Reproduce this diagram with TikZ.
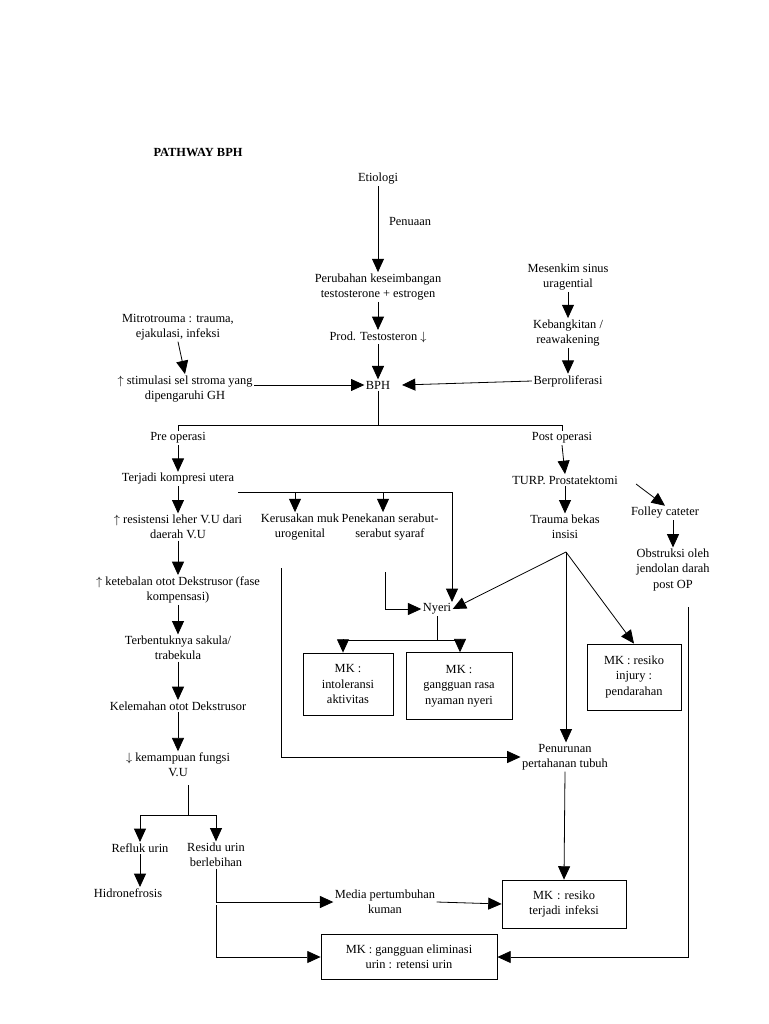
\documentclass[tikz,border=0pt]{standalone}
\usepackage{fontspec}
\setmainfont{Liberation Serif}
\usetikzlibrary{arrows.meta,calc}
\begin{document}
\begin{tikzpicture}[x=0.75pt,y=-0.75pt,
  t/.style={align=center,inner sep=1pt,font=\fontsize{9.3}{11.5}\selectfont},
  box/.style={t,draw,line width=0.6pt,inner sep=0pt},
  ar/.style={-{Triangle[length=10pt,width=9pt]},line width=0.6pt},
  ln/.style={line width=0.6pt}]
\useasboundingbox (0,0) rectangle (768,1024);
\node[t,font=\bfseries\fontsize{9.3}{11}\selectfont] (title) at (198,152) {PATHWAY BPH};
\node[t] (eti) at (378,179) {Etiologi};
\node[t] (pen) at (410,221) {Penuaan};
\node[t] (peru) at (378,287) {Perubahan keseimbangan\\testosterone + estrogen};
\node[t] (prod) at (378,337) {Prod. Testosteron $\downarrow$};
\node[t] (bph) at (378,385) {BPH};
\node[t] (mes) at (568,277) {Mesenkim sinus\\uragential};
\node[t] (keb) at (568,333) {Kebangkitan /\\reawakening};
\node[t] (ber) at (568,381) {Berproliferasi};
\node[t] (mit) at (178,327) {Mitrotrouma : trauma,\\ejakulasi, infeksi};
\node[t] (sti) at (185,389) {$\uparrow$ stimulasi sel stroma yang\\dipengaruhi GH};
\node[t] (pre) at (178,438) {Pre operasi};
\node[t] (post) at (562,438) {Post operasi};
\node[t] (ter) at (178,479) {Terjadi kompresi utera};
\node[t] (res) at (178,527) {$\uparrow$ resistensi leher V.U dari\\daerah V.U};
\node[t,fill=white] (ker) at (300,527) {Kerusakan muk\\urogenital};
\node[t,fill=white] (pnk) at (390,527) {Penekanan serabut-\\serabut syaraf};
\node[t] (teb) at (178,590) {$\uparrow$ ketebalan otot Dekstrusor (fase\\kompensasi)};
\node[t] (tbk) at (178,648) {Terbentuknya sakula/\\trabekula};
\node[t] (kel) at (178,706) {Kelemahan otot Dekstrusor};
\node[t] (kem) at (178,765) {$\downarrow$ kemampuan fungsi\\V.U};
\node[t] (ref) at (140,848) {Refluk urin};
\node[t] (resu) at (216,855) {Residu urin\\berlebihan};
\node[t] (hid) at (128,893) {Hidronefrosis};
\node[t] (med) at (385,902) {Media pertumbuhan\\kuman};
\node[box,minimum width=93pt*0.75/0.75,text width=80pt,minimum height=48*0.75pt] (inf) at (564,904) {MK : resiko\\terjadi infeksi};
\node[box,minimum width=132pt,minimum height=34pt] (eli) at (409,957) {MK : gangguan eliminasi\\urin : retensi urin};
\node[t] (nye) at (437,609) {Nyeri};
\node[box,minimum width=67.5pt,minimum height=46.5pt] (int) at (348,684) {MK :\\intoleransi\\aktivitas};
\node[box,minimum width=79.5pt,minimum height=50pt] (gan) at (459,686) {MK :\\gangguan rasa\\nyaman nyeri};
\node[t] (turp) at (565,480) {TURP. Prostatektomi};
\node[t] (tra) at (565,527) {Trauma bekas\\insisi};
\node[t] (fol) at (665,513) {Folley cateter};
\node[t] (obs) at (673,570) {Obstruksi oleh\\jendolan darah\\post OP};
\node[box,minimum width=70.5pt,minimum height=49.5pt] (inj) at (634,677) {MK : resiko\\injury :\\pendarahan};
\node[t] (pnr) at (565,757) {Penurunan\\pertahanan tubuh};
% connectors
\draw[ar] (eti.south) -- (peru.north);
\draw[ar] (peru.south) -- (prod.north);
\draw[ar] (prod.south) -- (bph.north);
\draw[ar] (mes.south) -- (keb.north);
\draw[ar] (keb.south) -- (ber.north);
\draw[ar] (ber.west) -- (bph.east -| 402,0);
\draw[ar] (mit.south) -- (sti.north);
\draw[ar] (sti.east |- bph) -- (bph.west);
\draw[ln] (bph.south) -- (378,425) -| (pre.north);
\draw[ln] (378,425) -| (post.north);
\draw[ar] (pre.south) -- (ter.north);
\draw[ar] (ter.south) -- (res.north);
\draw[ln] (238,492) -- (452,492);
\draw[ar] (295,492) -- (ker.north -| 295,0);
\draw[ar] (383,492) -- (pnk.north -| 383,0);
\draw[ar] (452,492) -- (nye.north -| 452,0);
\draw[ar] (res.south) -- (teb.north);
\draw[ar] (teb.south) -- (tbk.north);
\draw[ar] (tbk.south) -- (kel.north);
\draw[ar] (kel.south) -- (kem.north);
\draw[ln] (188,785) -- (188,815);
\draw[ar] (140,815) -- (ref.north);
\draw[ar] (140,815) -| (resu.north);
\draw[ar] (ref.south) -- (hid.north -| ref);
\draw[ar] (resu.south) |- (med.west);
\draw[ar] (216,905) |- (eli.west);
\draw[ar] (med.east) -- (inf.west);
\draw[ar] (281,568) |- (pnr.west);
\draw[ar] (385,572) |- (nye.west);
\draw[ln] (nye.south) -- (437,640);
\draw[ar] (343,640) -- (int.north -| 343,0);
\draw[ln] (343,640) -- (460,640);
\draw[ar] (460,640) -- (gan.north -| 460,0);
\draw[ar] (post.south) -- (turp.north);
\draw[ar] (turp.south) -- (tra.north);
\draw[ar] (636,484) -- (fol.north);
\draw[ar] (fol.south -| obs) -- (obs.north);
\coordinate (tr) at (566,552);
\draw[ar] (tr) -- (nye.east);
\draw[ar] (tr) -- (inj.north);
\draw[ar] (tr) -- (pnr.north -| tr);
\draw[ar] (pnr.south) -- (inf.north);
\draw[ar] (688,607) |- (eli.east);
\end{tikzpicture}
\end{document}
